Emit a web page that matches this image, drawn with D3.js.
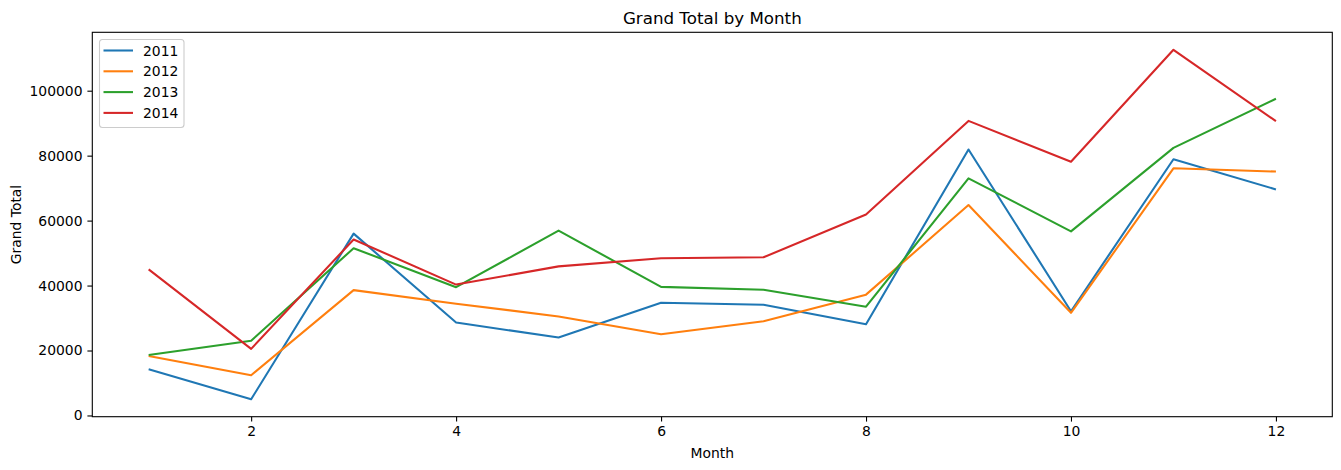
<!DOCTYPE html>
<html>
<head>
<meta charset="utf-8">
<script src="https://cdn.jsdelivr.net/npm/d3@7"></script>
<style>
  body { margin: 0; background: #fff; }
  text { font-family: "DejaVu Sans", sans-serif; fill: #000; }
</style>
</head>
<body>
<div class="chart"></div>
<script>
// values
const months = [1, 2, 3, 4, 5, 6, 7, 8, 9, 10, 11, 12];
const years = ["2011", "2012", "2013", "2014"];
const total2011 = [14200, 5000, 56000, 28600, 24000, 34700, 34100, 28100, 81900, 32100, 78900, 69600];
const total2012 = [18300, 12400, 38600, 34400, 30500, 25000, 29000, 37200, 64800, 31600, 76100, 75100];
const total2013 = [18600, 23000, 51500, 39500, 56900, 39600, 38700, 33500, 73000, 56700, 82400, 97500];
const total2014 = [45000, 20500, 54200, 40300, 45900, 48400, 48700, 61900, 90700, 78100, 112600, 90600];
const xTicks = [2, 4, 6, 8, 10, 12];
const yTicks = [0, 20000, 40000, 60000, 80000, 100000];
const colours = ["#1f77b4", "#ff7f0e", "#2ca02c", "#d62728"];

const createChart = () => {
    const width = 1341, height = 470;
    const margin = {top: 32.3, right: 8.7, bottom: 53.3, left: 92.3};
    const innerW = width - margin.left - margin.right;
    const innerH = height - margin.top - margin.bottom;

    const seriesList = [total2011, total2012, total2013, total2014];
    const allValues = seriesList.flat();
    const yMin = d3.min(allValues), yMax = d3.max(allValues);
    const yPad = (yMax - yMin) * 0.05;

    //matplotlib style 5% margins on both axes
    const x = d3.scaleLinear()
        .domain([1 - 0.55, 12 + 0.55])
        .range([0, innerW]);
    const y = d3.scaleLinear()
        .domain([yMin - yPad, yMax + yPad])
        .range([innerH, 0]);

    const svg = d3.select(".chart").append("svg")
        .attr("width", width)
        .attr("height", height);

    const g = svg.append("g")
        .attr("transform", `translate(${margin.left}, ${margin.top})`);

    const line = d3.line()
        .x((d, i) => x(months[i]))
        .y(d => y(d));

    g.selectAll(".series")
        .data(seriesList)
        .enter().append("path")
        .attr("class", "series")
        .attr("d", line)
        .attr("fill", "none")
        .attr("stroke", (d, i) => colours[i])
        .attr("stroke-width", 2.08)
        .attr("stroke-linejoin", "round");

    //axes
    const xAxis = g.append("g")
        .attr("transform", `translate(0, ${innerH})`)
        .call(d3.axisBottom(x).tickValues(xTicks).tickSize(4.9).tickPadding(4.9).tickFormat(d3.format("d")));
    const yAxis = g.append("g")
        .call(d3.axisLeft(y).tickValues(yTicks).tickSize(4.9).tickPadding(4.9).tickFormat(d3.format("d")));

    [xAxis, yAxis].forEach(ax => {
        ax.select(".domain").remove();
        ax.selectAll("line").attr("stroke", "#000").attr("stroke-width", 1.1);
        ax.selectAll("text").attr("font-size", "13.9px").attr("font-family", "DejaVu Sans");
    });

    //frame
    g.append("rect")
        .attr("width", innerW)
        .attr("height", innerH)
        .attr("fill", "none")
        .attr("stroke", "#000")
        .attr("stroke-width", 1.1);

    //title and labels
    svg.append("text")
        .text("Grand Total by Month")
        .attr("x", margin.left + innerW / 2)
        .attr("y", 24)
        .attr("text-anchor", "middle")
        .attr("font-size", "16.7px");

    svg.append("text")
        .text("Month")
        .attr("x", margin.left + innerW / 2)
        .attr("y", 458)
        .attr("text-anchor", "middle")
        .attr("font-size", "13.9px");

    svg.append("text")
        .text("Grand Total")
        .attr("transform", `translate(21, ${margin.top + innerH / 2}) rotate(-90)`)
        .attr("text-anchor", "middle")
        .attr("font-size", "13.9px");

    //legend
    const legend = svg.append("g")
        .attr("transform", "translate(99.5, 39.5)");

    legend.append("rect")
        .attr("width", 84.5)
        .attr("height", 88)
        .attr("rx", 3)
        .attr("fill", "#fff")
        .attr("fill-opacity", 0.8)
        .attr("stroke", "#ccc")
        .attr("stroke-width", 1.1);

    const item = legend.selectAll(".item")
        .data(years)
        .enter().append("g")
        .attr("class", "item")
        .attr("transform", (d, i) => `translate(0, ${11 + i * 20.8})`);

    item.append("line")
        .attr("x1", 4)
        .attr("x2", 33.5)
        .attr("stroke", (d, i) => colours[i])
        .attr("stroke-width", 2.08);

    item.append("text")
        .text(d => d)
        .attr("x", 43.5)
        .attr("dy", "0.36em")
        .attr("font-size", "13.9px");
};

createChart();
</script>
</body>
</html>
